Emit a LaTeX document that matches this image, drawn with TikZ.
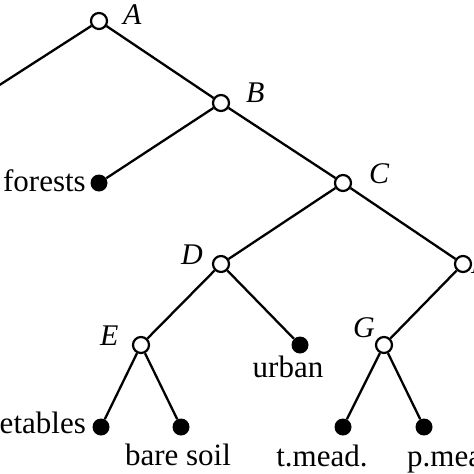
\documentclass[tikz,border=0pt]{standalone}
\usepackage{fontspec}
\setmainfont{Liberation Serif}
\begin{document}
\begin{tikzpicture}[x=1pt,y=-1pt,
  inode/.style={circle,draw=black,fill=white,line width=2.2pt,inner sep=0pt,minimum size=16pt},
  leaf/.style={circle,fill=black,inner sep=0pt,minimum size=17pt},
  edge/.style={line width=2.3pt},
  lbl/.style={inner sep=0pt,font=\fontsize{30}{30}\selectfont\itshape},
  txt/.style={inner sep=0pt,font=\fontsize{31}{31}\selectfont}]
\useasboundingbox (0,0) rectangle (474,474);
\begin{scope}
\clip (0,0) rectangle (474,474);
% nodes
\node[inode] (A) at (99,21) {};
\node[inode] (B) at (221,103) {};
\node[inode] (C) at (343,183) {};
\node[inode] (D) at (221,264) {};
\node[inode] (F) at (463,264) {};
\node[inode] (E) at (141,345) {};
\node[inode] (G) at (384,345) {};
\node[leaf] (forests) at (99,183) {};
\node[leaf] (urban) at (300,345) {};
\node[leaf] (veg) at (101,427) {};
\node[leaf] (bare) at (181,427) {};
\node[leaf] (tm) at (343,427) {};
\node[leaf] (pm) at (424,427) {};
\coordinate (Lend) at (-30,104);
% edges
\draw[edge] (A) -- (Lend);
\draw[edge] (A) -- (B);
\draw[edge] (B) -- (forests);
\draw[edge] (B) -- (C);
\draw[edge] (C) -- (D);
\draw[edge] (C) -- (F);
\draw[edge] (D) -- (E);
\draw[edge] (D) -- (urban);
\draw[edge] (F) -- (G);
\draw[edge] (E) -- (veg);
\draw[edge] (E) -- (bare);
\draw[edge] (G) -- (tm);
\draw[edge] (G) -- (pm);
% labels
\node[lbl,anchor=base west] (lA) at (123,24) {A};
\node[lbl,anchor=base west] (lB) at (246,102) {B};
\node[lbl,anchor=base west] (lC) at (369,183) {C};
\node[lbl,anchor=base west] (lD) at (181,264) {D};
\node[lbl,anchor=base west] (lE) at (100,345) {E};
\node[lbl,anchor=base west] (lG) at (353,337) {G};
\node[lbl,anchor=base west] (lF) at (471,273) {F};
\node[txt,anchor=base east] (tforests) at (86,191) {forests};
\node[txt,anchor=base east] (tveg) at (86,433) {vegetables};
\node[txt,anchor=base] (turban) at (288,377) {urban};
\node[txt,anchor=base] (tbare) at (178,465) {bare soil};
\node[txt,anchor=base] (ttm) at (322,466) {t.mead.};
\node[txt,anchor=base west] (tpm) at (407,466) {p.mead.};
\end{scope}
\end{tikzpicture}
\end{document}
